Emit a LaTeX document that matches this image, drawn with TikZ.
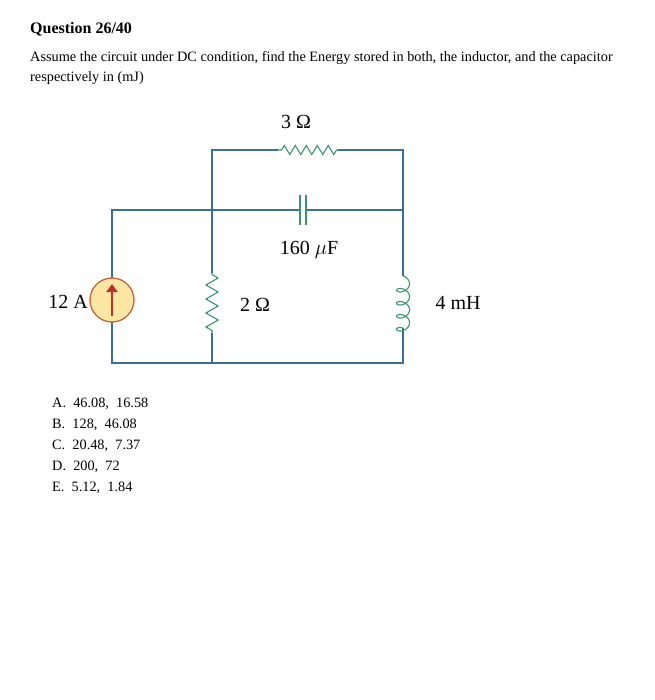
\documentclass[tikz,border=0pt]{standalone}
\usepackage{fontspec}
\setmainfont{Liberation Serif}
\usetikzlibrary{decorations.pathmorphing,arrows.meta}
\definecolor{wire}{HTML}{3C6E9C}
\definecolor{comp}{HTML}{3A9470}
\definecolor{srcfill}{HTML}{FCE6A4}
\definecolor{srcedge}{HTML}{C8643C}
\definecolor{arr}{HTML}{C0302A}
\tikzset{
  w/.style={draw=wire,line width=1.3pt},
  cmp/.style={draw=comp,line width=1.1pt},
  lbl/.style={font=\fontsize{20}{22}\selectfont,inner sep=0pt},
  txt/.style={font=\fontsize{14.3}{16}\selectfont,inner sep=0pt,anchor=west},
}
\begin{document}
\begin{tikzpicture}[x=1pt,y=-1pt]
\useasboundingbox (0,0) rectangle (654,700);
\fill[white] (0,0) rectangle (654,700);
\node[txt,font=\fontsize{16}{18}\selectfont\bfseries] (q) at (30,29) {Question 26/40};
\node[txt] (p1) at (30,58) {Assume the circuit under DC condition, find the Energy stored in both, the inductor, and the capacitor};
\node[txt] (p2) at (30,78) {respectively in (mJ)};
\node[txt] (oa) at (52,404) {A.\ \ 46.08,\ \ 16.58};
\node[txt] (ob) at (52,425) {B.\ \ 128,\ \ 46.08};
\node[txt] (oc) at (52,446) {C.\ \ 20.48,\ \ 7.37};
\node[txt] (od) at (52,467) {D.\ \ 200,\ \ 72};
\node[txt] (oe) at (52,488) {E.\ \ 5.12,\ \ 1.84};
% nodes
\coordinate (LT) at (112,210); \coordinate (LB) at (112,363);
\coordinate (MT) at (212,150); \coordinate (MM) at (212,210); \coordinate (MB) at (212,363);
\coordinate (RT) at (403,150); \coordinate (RM) at (403,210); \coordinate (RB) at (403,363);
\coordinate (r3a) at (278,150); \coordinate (r3b) at (338,150);
\coordinate (ca) at (300,210); \coordinate (cb) at (306,210);
\coordinate (r2a) at (212,273); \coordinate (r2b) at (212,333);
\coordinate (la) at (403,276); \coordinate (lb) at (403,328);
\coordinate (sa) at (112,278); \coordinate (sb) at (112,322);
% wires
\draw[w] (sa) -- (LT) -- (ca);
\draw[w] (cb) -- (RM);
\draw[w] (r3a) -- (MT) -- (r2a);
\draw[w] (r3b) -- (RT) -- (la);
\draw[w] (sb) -- (LB) -- (RB) -- (lb);
\draw[w] (MB) -- (r2b);
% components
\draw[cmp,decorate,decoration={zigzag,segment length=11pt,amplitude=4.5pt,pre length=3.5pt,post length=1.5pt}] (r3a) -- (r3b);
\draw[cmp,decorate,decoration={zigzag,segment length=14pt,amplitude=6pt,pre length=1.5pt,post length=2.5pt}] (r2a) -- (r2b);
\draw[cmp] (300,195) -- (300,225) (306,195) -- (306,225);
\draw[cmp,smooth,samples=160,variable=\t,domain=0:25.1327] plot ({403+6.5*sin(\t r)},{276+2.07*\t+4.5*(1-cos(\t r))});
\node[circle,minimum size=44pt,inner sep=0pt,fill=srcfill,draw=srcedge,line width=1.3pt] (src) at (112,300) {};
\draw[arr,line width=2.6pt,-{Triangle[length=8pt,width=11pt]}] (112,316) -- (112,284);
% labels
\node[lbl] (l3) at (296,122) {3 Ω};
\node[lbl] (lc) at (309,250) {160 $\mu$F};
\node[lbl] (l2) at (255,305) {2 Ω};
\node[lbl] (ll) at (458,303) {4 mH};
\node[lbl,anchor=east] (ls) at (88,302) {12 A};
\end{tikzpicture}
\end{document}
